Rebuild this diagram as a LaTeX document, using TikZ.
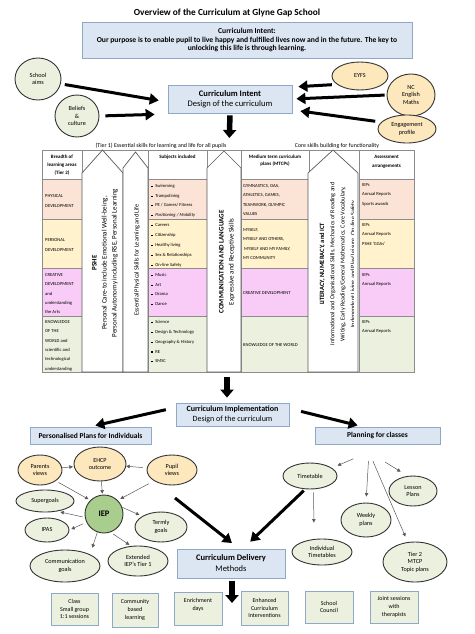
\documentclass[tikz,border=0pt]{standalone}
\usepackage{fontspec}
\setmainfont{Carlito}
\usetikzlibrary{arrows.meta,shapes.geometric}

\definecolor{boxblue}{HTML}{DCE6F2}
\definecolor{boxline}{HTML}{8EA9C8}
\definecolor{palegreen}{HTML}{EBF1DE}
\definecolor{paleorange}{HTML}{FDE7BD}
\definecolor{iepgreen}{HTML}{A9CD8C}
\definecolor{peach}{HTML}{FBE4D5}
\definecolor{cream}{HTML}{FFF2CC}
\definecolor{lilac}{HTML}{F9CCF7}
\definecolor{gridgray}{HTML}{8C8C8C}

\newcommand{\sqbullet}{\rule[0.5pt]{1.3pt}{1.3pt}\hspace{2.8pt}}

\tikzset{
  bluebox/.style={draw=boxline, fill=boxblue, line width=0.8pt, align=center, inner sep=0pt},
  greenbox/.style={draw=boxline, fill=palegreen, line width=0.8pt, align=center, inner sep=0pt,
    minimum width=48pt, minimum height=32pt, font=\fontsize{6}{7.8}\selectfont},
  greenell/.style={ellipse, draw=black!80, fill=palegreen, line width=0.9pt, inner sep=0pt,
    align=center, font=\fontsize{6.2}{7.6}\selectfont},
  orangeell/.style={greenell, fill=paleorange},
  tablecell/.style={draw=gridgray, line width=0.6pt},
  celltext/.style={anchor=north west, align=left, inner sep=0pt, font=\fontsize{4.6}{9.6}\selectfont},
  headcell/.style={align=center, inner sep=0pt, font=\bfseries\fontsize{5}{8}\selectfont},
  pent/.style={draw=black!65, fill=white, line width=0.7pt},
  penttext/.style={rotate=90, align=center, inner sep=0pt},
  bigarrow/.style={line width=3pt, -{Triangle[length=9pt,width=11pt]}},
  blockarrow/.style={line width=5.5pt, -{Triangle[length=8pt,width=13pt]}},
  thinarrow/.style={draw=black!65, line width=0.5pt, -{Triangle[length=3.5pt,width=3.5pt]}},
}

\begin{document}
\begin{tikzpicture}[x=1pt,y=-1pt]
\path[use as bounding box, fill=white] (0,0) rectangle (474,634);

% intent
\node[font=\bfseries\fontsize{9.3}{11}\selectfont] (title) at (227,13) {Overview of the Curriculum at Glyne Gap School};
\node[bluebox, minimum width=330pt, minimum height=36pt, font=\bfseries\fontsize{7.6}{8.7}\selectfont] (intent) at (247,40)
  {Curriculum Intent:\\Our purpose is to enable pupil to live happy and fulfilled lives now and in the future. The key to\\unlocking this life is through learning.};
\node[bluebox, minimum width=124pt, minimum height=28pt, font=\fontsize{8.5}{10}\selectfont] (design) at (230,99)
  {\textbf{Curriculum Intent}\\Design of the curriculum};

\node[greenell, minimum width=46pt, minimum height=42pt] (aims) at (38,79) {School\\aims};
\node[greenell, minimum width=44pt, minimum height=42pt] (beliefs) at (77,116) {Beliefs\\\&\\culture};
\node[orangeell, minimum width=56pt, minimum height=28pt] (eyfs) at (360,76) {EYFS};
\node[orangeell, minimum width=48pt, minimum height=42pt] (nc) at (411,95) {NC\\English\\Maths};
\node[orangeell, minimum width=58pt, minimum height=28pt] (engage) at (407,129) {Engagement\\profile};

\draw[bigarrow, shorten <=4pt, shorten >=9pt] (aims.-12) -- ([yshift=-3pt]design.west);
\draw[bigarrow, shorten <=6pt, shorten >=13pt] (beliefs.east) -- ([yshift=-15pt]design.west);
\draw[bigarrow, shorten <=5pt, shorten >=6pt] (eyfs.200) -- ([yshift=12pt]design.east);
\draw[bigarrow, shorten <=2pt, shorten >=4pt] (nc.west) -- (design.east);
\draw[bigarrow, shorten <=6pt, shorten >=8pt] (engage.165) -- ([yshift=-11pt]design.east);

\coordinate (tabletop) at (229,150);
\draw[blockarrow, shorten <=2pt, shorten >=12pt] (design.south) -- (tabletop);

\node[font=\fontsize{5.9}{6}\selectfont] (tier1) at (161,146) {(Tier 1) Essential skills for learning and life for all pupils};
\node[font=\fontsize{5.9}{6}\selectfont] (core) at (337,146) {Core skills building for functionality};

% table
\draw[tablecell] (42,150) rectangle (414,372);
\filldraw[tablecell, fill=white] (42,150) rectangle (82,179) (148,150) rectangle (207,179)
  (241,150) rectangle (309,179) (359,150) rectangle (414,179);
\filldraw[tablecell, fill=peach] (42,179) rectangle (82,219) (148,179) rectangle (207,219)
  (241,179) rectangle (309,219) (359,179) rectangle (414,219);
\filldraw[tablecell, fill=cream] (42,219) rectangle (82,268) (148,219) rectangle (207,268)
  (241,219) rectangle (309,268) (359,219) rectangle (414,268);
\filldraw[tablecell, fill=lilac] (42,268) rectangle (82,316) (148,268) rectangle (207,316)
  (241,268) rectangle (309,316) (359,268) rectangle (414,316);
\filldraw[tablecell, fill=palegreen] (42,316) rectangle (82,372) (148,316) rectangle (207,372)
  (241,316) rectangle (309,372) (359,316) rectangle (414,372);

\node[headcell] (breadth) at (62,165) {Breadth of\\learning areas\\(Tier 2)};
\node[headcell] (subjects) at (177.5,157) {Subjects included};
\node[headcell, font=\bfseries\fontsize{5}{7.5}\selectfont] (mtcp) at (275,160.5) {Medium term curriculum\\plans (MTCPs)};
\node[headcell, font=\bfseries\fontsize{5}{9}\selectfont] (assess) at (386.5,161.5) {Assessment\\arrangements};

\node[celltext] (phys) at (45,194.4) {PHYSICAL\\DEVELOPMENT};
\node[celltext] (pers) at (45,238.4) {PERSONAL\\DEVELOPMENT};
\node[celltext, font=\fontsize{4.6}{9.3}\selectfont] (creat) at (45,273.4) {CREATIVE\\DEVELOPMENT\\and\\understanding\\the Arts};
\node[celltext, font=\fontsize{4.6}{9.3}\selectfont] (know) at (45,320.4) {KNOWLEDGE\\OF THE\\WORLD and\\scientific and\\technological\\understanding};

\node[celltext] (subj1) at (151,184.4) {\sqbullet Swimming\\\sqbullet Trampolining\\\sqbullet PE / Games/ Fitness\\\sqbullet \textit{Positioning / Mobility}};
\node[celltext, font=\fontsize{4.6}{10}\selectfont] (subj2) at (151,223.4) {\sqbullet Careers\\\sqbullet Citizenship\\\sqbullet Healthy living\\\sqbullet Sex \& Relationships\\\sqbullet On-line Safety};
\node[celltext] (subj3) at (151,273.4) {\sqbullet Music\\\sqbullet Art\\\sqbullet Drama\\\sqbullet Dance};
\node[celltext, font=\fontsize{4.6}{9.8}\selectfont] (subj4) at (151,320.4) {\sqbullet Science\\\sqbullet Design \& Technology\\\sqbullet Geography \& History\\\sqbullet RE\\\sqbullet SMSC};

\node[celltext, font=\fontsize{4.6}{9.4}\selectfont] (mtcp1) at (243,184.4) {GYMNASTICS, OAA,\\ATHLETICS, GAMES,\\TEAMWORK, OLYMPIC\\VALUES};
\node[celltext, font=\fontsize{4.6}{9.4}\selectfont] (mtcp2) at (243,228.4) {MYSELF,\\MYSELF AND OTHERS,\\\hspace{1pt}MYSELF AND MY FAMILY,\\MY COMMUNITY};
\node[celltext] (mtcp3) at (243,291.4) {CREATIVE DEVELOPMENT};
\node[celltext] (mtcp4) at (243,343.4) {KNOWLEDGE OF THE WORLD};

\node[celltext, font=\fontsize{4.6}{9.4}\selectfont] (assess1) at (362,183.4) {IEPs\\Annual Reports\\Sports awards};
\node[celltext, font=\fontsize{4.6}{9.4}\selectfont] (assess2) at (362,223.4) {IEPs\\Annual Reports\\PSHE `GGAs'};
\node[celltext, font=\fontsize{4.6}{9.4}\selectfont] (assess3) at (362,273.4) {IEPs\\Annual Reports};
\node[celltext, font=\fontsize{4.6}{9.4}\selectfont] (assess4) at (362,320.4) {IEPs\\Annual Reports};

% pentagons
\filldraw[pent] (82,372) -- (82,173) -- (102.5,150) -- (123,173) -- (123,372) -- cycle;
\filldraw[pent] (123,372) -- (123,168) -- (135.5,152) -- (148,168) -- (148,372) -- cycle;
\filldraw[pent] (207,372) -- (207,168) -- (224,151) -- (241,168) -- (241,372) -- cycle;
\filldraw[pent] (308,372) -- (308,173) -- (333,150) -- (358,173) -- (358,372) -- cycle;

\node[penttext, font=\fontsize{7}{10}\selectfont] (pshe) at (105,263)
  {\textbf{PSHE}\\Personal Care-to include Emotional Well-being,\\Personal Autonomy including RSE, Personal Learning};
\node[penttext, font=\fontsize{6.3}{8}\selectfont] (physical) at (137,260) {Essential Physical Skills for Learning and Life};
\node[penttext, font=\fontsize{7}{10}\selectfont] (language) at (227,262)
  {\textbf{COMMUNICATION AND LANGUAGE}\\Expressive and Receptive Skills};
\begin{scope}
  \clip (308,372) -- (308,173) -- (333,150) -- (358,173) -- (358,372) -- cycle;
  \clip (300,140) rectangle (353.5,380);
  \node[penttext, font=\fontsize{6.1}{10.3}\selectfont] (literacy) at (337.7,264)
    {{\bfseries\fontsize{6.5}{10.3}\selectfont LITERACY, NUMERACY, and ICT}\\Informational and Organisational Skills, Mechanics of Reading and\\Writing, Early Reading/General Mathematics, Core Vocabulary,\\Independent Living and Play/Leisure, On-line Safety};
\end{scope}

% implementation
\node[bluebox, minimum width=113pt, minimum height=23pt, font=\fontsize{8}{10}\selectfont] (impl) at (232.5,414.5)
  {\textbf{Curriculum Implementation}\\Design of the curriculum};
\coordinate (tablebottom) at (227,372);
\draw[blockarrow, shorten <=5pt, shorten >=5pt] (tablebottom) -- ([xshift=-5.5pt]impl.north);

\node[bluebox, minimum width=121pt, minimum height=17pt, font=\bfseries\fontsize{7.5}{8}\selectfont] (plans) at (90.5,435.5) {Personalised Plans for Individuals};
\node[bluebox, minimum width=125pt, minimum height=17pt, font=\bfseries\fontsize{7.5}{8}\selectfont] (classes) at (377.5,435.5) {Planning for classes};
\draw[bigarrow, shorten <=10pt, shorten >=5pt] ([yshift=7pt]impl.west) -- (plans.north);
\draw[bigarrow, shorten <=12pt, shorten >=5pt] ([yshift=6pt]impl.east) -- ([xshift=-15pt]classes.north);

% individuals
\node[orangeell, minimum width=44pt, minimum height=30pt] (parents) at (40,470) {Parents\\views};
\node[orangeell, minimum width=52pt, minimum height=34pt] (ehcp) at (100,464) {EHCP\\outcome};
\node[orangeell, minimum width=50pt, minimum height=30pt] (pupil) at (172,470) {Pupil\\views};
\node[greenell, minimum width=58pt, minimum height=22pt] (super) at (45,501) {Supergoals};
\node[greenell, fill=iepgreen, minimum width=38pt, minimum height=38pt, font=\bfseries\fontsize{8.5}{9}\selectfont] (iep) at (104,514) {IEP};
\node[greenell, minimum width=44pt, minimum height=24pt] (ipas) at (47,530) {IPAS};
\node[greenell, minimum width=52pt, minimum height=30pt] (termly) at (161,527) {Termly\\goals};
\node[greenell, minimum width=70pt, minimum height=32pt] (commgoals) at (65,566) {Communication\\goals};
\node[greenell, minimum width=60pt, minimum height=30pt] (extended) at (138,561) {Extended\\IEP's Tier 1};

\draw[thinarrow, shorten >=1pt] (parents) -- (ehcp);
\draw[thinarrow, shorten <=4pt] (pupil) -- (ehcp);
\draw[thinarrow, shorten >=1pt] (ehcp) -- (iep);
\draw[thinarrow, shorten <=3pt, shorten >=2pt] (parents.south east) -- (iep.north west);
\draw[thinarrow, shorten <=6pt, shorten >=3pt] (pupil.south west) -- (iep.north east);
\draw[thinarrow, shorten <=2pt, shorten >=3pt] (iep.190) -- (super.-40);
\draw[thinarrow, shorten <=4pt, shorten >=2pt] (iep.205) -- (ipas.east);
\draw[thinarrow, shorten >=3pt] (iep.20) -- (termly.150);
\draw[thinarrow, shorten >=7pt] (iep.250) -- (commgoals.north east);
\draw[thinarrow, shorten <=3pt, shorten >=2pt] (iep.290) -- (extended.115);

% classes
\node[greenell, minimum width=54pt, minimum height=26pt] (timetable) at (310,476) {Timetable};
\node[greenell, minimum width=48pt, minimum height=30pt] (lesson) at (413,491) {Lesson\\Plans};
\node[greenell, minimum width=50pt, minimum height=34pt] (weekly) at (366,520) {Weekly\\plans};
\node[greenell, minimum width=60pt, minimum height=26pt] (indiv) at (322,552) {Individual\\Timetables};
\node[greenell, minimum width=64pt, minimum height=40pt] (tier2) at (415,562) {Tier 2\\MTCP\\Topic plans};

\coordinate (fork) at (369,452);
\draw[thinarrow, shorten <=17pt, shorten >=6pt] (fork) -- (timetable.20);
\draw[thinarrow, shorten <=9pt, shorten >=6pt] (fork) -- (weekly.north);
\draw[thinarrow, shorten <=10pt, shorten >=6pt] (fork) -- (tier2.110);
\draw[thinarrow, shorten <=19pt, shorten >=8pt] (fork) -- (lesson.110);
\draw[thinarrow, shorten <=3pt, shorten >=16pt] (timetable.-75) -- ([xshift=-8pt]indiv.north);

% delivery
\node[bluebox, minimum width=108pt, minimum height=29pt, font=\fontsize{8.5}{11}\selectfont] (delivery) at (231,563.5)
  {\textbf{Curriculum Delivery}\\Methods};
\coordinate (plansout) at (175,498);
\draw[bigarrow, shorten >=9pt] (plansout) -- ([xshift=8pt]delivery.north);
\draw[bigarrow, shorten <=2pt, shorten >=10pt] (timetable.250) -- ([xshift=12pt]delivery.north);
\coordinate (methods) at (232,603);
\draw[blockarrow, shorten <=3pt] ([xshift=1pt]delivery.south) -- (methods);

\node[greenbox, minimum width=47pt] (class) at (74.5,609) {Class\\Small group\\1:1 sessions};
\node[greenbox, minimum width=46pt, minimum height=34pt] (community) at (135,610) {Community\\based\\learning};
\node[greenbox, minimum height=33pt] (enrich) at (198,608.5) {Enrichment\\days\\\mbox{}};
\node[greenbox, minimum width=47pt, minimum height=34pt] (enhanced) at (264.5,608) {Enhanced\\Curriculum\\Interventions};
\node[greenbox] (council) at (329,607) {School\\Council};
\node[greenbox] (joint) at (394,607) {Joint sessions\\with\\therapists};
\end{tikzpicture}
\end{document}
